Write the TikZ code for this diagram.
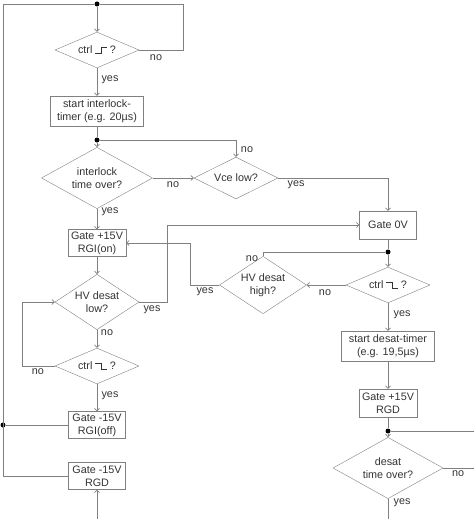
\documentclass[tikz,border=0pt]{standalone}
\usepackage{fontspec}
\setmainfont{Liberation Sans}
\usetikzlibrary{shapes.geometric,arrows.meta}
\definecolor{linegray}{gray}{0.5}
\definecolor{textgray}{gray}{0.2}
\newcommand{\edgeup}{\rule{6pt}{0.5pt}\rule{0.5pt}{7pt}\rule[6.5pt]{5pt}{0.5pt}}
\newcommand{\edgedown}{\rule[6.5pt]{6pt}{0.5pt}\rule{0.5pt}{7pt}\rule{5pt}{0.5pt}}
\tikzset{
  box/.style={draw=linegray,text=textgray,align=center,minimum width=57pt,minimum height=27pt,inner xsep=3pt,inner ysep=2pt,font=\fontsize{10.8}{13}\selectfont},
  dec/.style={diamond,draw=linegray,text=textgray,align=center,minimum width=84pt,minimum height=35pt,inner xsep=0pt,inner ysep=-5pt,font=\fontsize{10.8}{13}\selectfont},
  lbl/.style={text=textgray,inner sep=0pt,font=\fontsize{10.8}{13}\selectfont},
  flow/.style={draw=linegray,line width=0.7pt},
  dot/.style={circle,fill=black,inner sep=0pt,minimum size=5pt},
}
\begin{document}
\begin{tikzpicture}[x=1pt,y=-1pt,>={Straight Barb[length=2.5pt,width=5pt]}]
    \useasboundingbox(0,0)rectangle(474,519);
    \node[dot](j1)at(97,4){};
    \coordinate(tl)at(3,4);
    \node[dec,minimum height=34pt](d1)at(97,50){ctrl \edgeup\ ?};
    \node[box,minimum width=93pt,minimum height=30pt](b1)at(97,111){start interlock-\\timer (e.g. 20µs)};
    \node[dot](j2)at(97,140){};
    \node[dec,minimum width=111pt,minimum height=45pt](d2)at(97,178){interlock\\time over?};
    \node[dec](d3)at(236,178){Vce low?};
    \node[box](b2)at(97,243){Gate +15V\\RGI(on)};
    \node[dec](d4)at(97,302){HV desat\\low?};
    \node[dec](d5)at(97,366){ctrl \edgedown\ ?};
    \node[box](b3)at(97,425){Gate -15V\\RGI(off)};
    \node[dot](j5)at(3,425){};
    \node[box](b4)at(97,476){Gate -15V\\RGD};
    \coordinate(e4)at(97,519);
    \node[box,minimum height=28pt](b5)at(388,225){Gate 0V};
    \node[dot](j3)at(388,252){};
    \node[dec](d6)at(388,285){ctrl \edgedown\ ?};
    \node[dec,minimum width=87pt](d7)at(263,285){HV desat\\high?};
    \node[box,minimum width=93pt,minimum height=30pt](b6)at(388,346){start desat-timer\\(e.g. 19,5µs)};
    \node[box,minimum height=28pt](b7)at(388,403){Gate +15V\\RGD};
    \node[dot](j4)at(388,431){};
    \node[dec,minimum width=110pt,minimum height=46pt](d8)at(388,468){desat\\time over?};
    \coordinate(e1)at(474,431);
    \coordinate(e2)at(474,468);
    \coordinate(e3)at(388,519);
    \draw[flow,->](j1)--(d1);
    \draw[flow](d1.east)--++(44,0)|-(j1);
    \draw[flow,->](d1)--(b1);
    \draw[flow](b1)--(j2);
    \draw[flow,->](j2)--(d2);
    \draw[flow,->](j2)-|(d3.north);
    \draw[flow,->](d2.east)--(d3.west);
    \draw[flow,->](d3.east)-|(b5.north);
    \draw[flow,->](d2)--(b2);
    \draw[flow,->](b2)--(d4);
    \draw[flow,->](d4.east)--++(28,0)|-(b5.west);
    \draw[flow,->](d4)--(d5);
    \draw[flow,->](d5.west)--++(-32,0)|-(d4.west);
    \draw[flow,->](d5)--(b3);
    \draw[flow](b3.west)--(j5);
    \draw[flow](b4.west)-|(tl)--(j1);
    \draw[flow,->](e4)--(b4);
    \draw[flow](b5)--(j3);
    \draw[flow,->](j3)--(d6);
    \draw[flow](j3)-|(d7.north);
    \draw[flow,->](d6.west)--(d7.east);
    \draw[flow,->](d7.west)--++(-29,0)|-(b2.east);
    \draw[flow,->](d6)--(b6);
    \draw[flow,->](b6)--(b7);
    \draw[flow](b7)--(j4);
    \draw[flow,->](j4)--(d8);
    \draw[flow](j4)--(e1);
    \draw[flow](d8.east)--(e2);
    \draw[flow](d8.south)--(e3);
    \node[lbl](l1)at(156,58){no};
    \node[lbl](l2)at(110,80){yes};
    \node[lbl](l3)at(247,150){no};
    \node[lbl](l4)at(173,185){no};
    \node[lbl](l5)at(296,185){yes};
    \node[lbl](l6)at(110,212){yes};
    \node[lbl](l7)at(152,310){yes};
    \node[lbl](l8)at(107,333){no};
    \node[lbl](l9)at(38,372){no};
    \node[lbl](l10)at(110,396){yes};
    \node[lbl](l11)at(252,259){no};
    \node[lbl](l12)at(325,293){no};
    \node[lbl](l13)at(205,292){yes};
    \node[lbl](l14)at(402,315){yes};
    \node[lbl](l15)at(458,474){no};
    \node[lbl](l16)at(402,503){yes};
\end{tikzpicture}
\end{document}
